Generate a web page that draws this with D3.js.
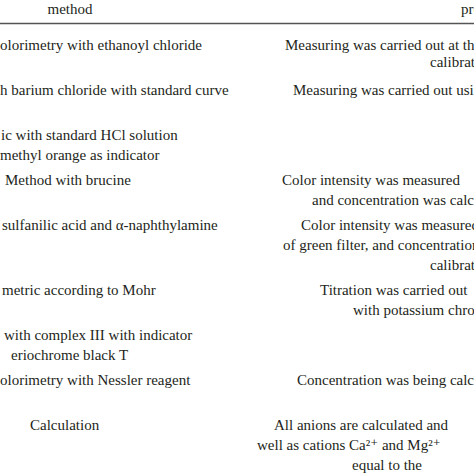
<!DOCTYPE html>
<html>
<head>
<meta charset="utf-8">
<script src="https://cdn.jsdelivr.net/npm/d3@7"></script>
<style>
  body { margin: 0; background: #fff; overflow: hidden; }
  text { font-family: "Liberation Serif", "DejaVu Serif", serif; font-size: 15px; fill: #231f20; }
</style>
</head>
<body>
<div id="table"></div>
<script>
// table content (left column: method, right column: procedure), clipped like the source
const headers = ["method", "procedure"];
const rowSlots = [2, 2, 2, 2, 3, 2, 2, 2, 3];
const methodLines = [
  ["olorimetry with ethanoyl chloride"],
  ["h barium chloride with standard curve"],
  ["ic with standard HCl solution", "methyl orange as indicator"],
  ["Method with brucine"],
  ["sulfanilic acid and α-naphthylamine"],
  ["metric according to Mohr"],
  ["with complex III with indicator", "eriochrome black T"],
  ["olorimetry with Nessler reagent"],
  ["Calculation"]
];
const methodX = [[0], [0], [1, 0], [5], [2], [2], [4, 11], [0], [30]];
const procLines = [
  ["Measuring was carried out at the", "calibration"],
  ["Measuring was carried out using"],
  [],
  ["Color intensity was measured", "and concentration was calculated"],
  ["Color intensity was measured", "of green filter, and concentration", "calibration"],
  ["Titration was carried out", "with potassium chromate"],
  [],
  ["Concentration was being calculated"],
  ["All anions are calculated and", "well as cations Ca²⁺ and Mg²⁺", "equal to the"]
];
const procX = [[285, 430], [293], [], [282, 312], [301, 283, 430], [320, 353], [], [297], [274, 257, 352]];

const width = 474, height = 474, lineH = 20, rowGap = 5, topY = 50;

const svg = d3.select("#table").append("svg")
  .attr("width", width).attr("height", height);

// header
svg.append("text").attr("x", 70).attr("y", 14).attr("text-anchor", "middle").text(headers[0]);
svg.append("text").attr("x", 461).attr("y", 14).text(headers[1]);
svg.append("line").attr("x1", 0).attr("x2", width).attr("y1", 23.5).attr("y2", 23.5)
  .attr("stroke", "#555").attr("stroke-width", 1.5);

// row start positions from cumulative slot counts
const starts = rowSlots.map((n, i) => d3.sum(rowSlots.slice(0, i)) * lineH + i * rowGap);
const y = d3.scaleLinear().domain([0, 1]).range([topY, topY + 1]);

const rows = svg.selectAll("g.row").data(d3.range(rowSlots.length)).join("g").attr("class", "row");

rows.selectAll("text.m").data(i => methodLines[i].map((t, j) => ({ t, j, i }))).join("text")
  .attr("class", "m")
  .attr("x", d => methodX[d.i][d.j])
  .attr("y", d => y(starts[d.i] + d.j * lineH))
  .text(d => d.t);

rows.selectAll("text.p").data(i => procLines[i].map((t, j) => ({ t, j, i }))).join("text")
  .attr("class", "p")
  .attr("x", d => procX[d.i][d.j])
  .attr("y", d => y(starts[d.i] + d.j * lineH) - (d.i === 0 && d.j === 1 ? 3 : 0))
  .text(d => d.t);
</script>
</body>
</html>
